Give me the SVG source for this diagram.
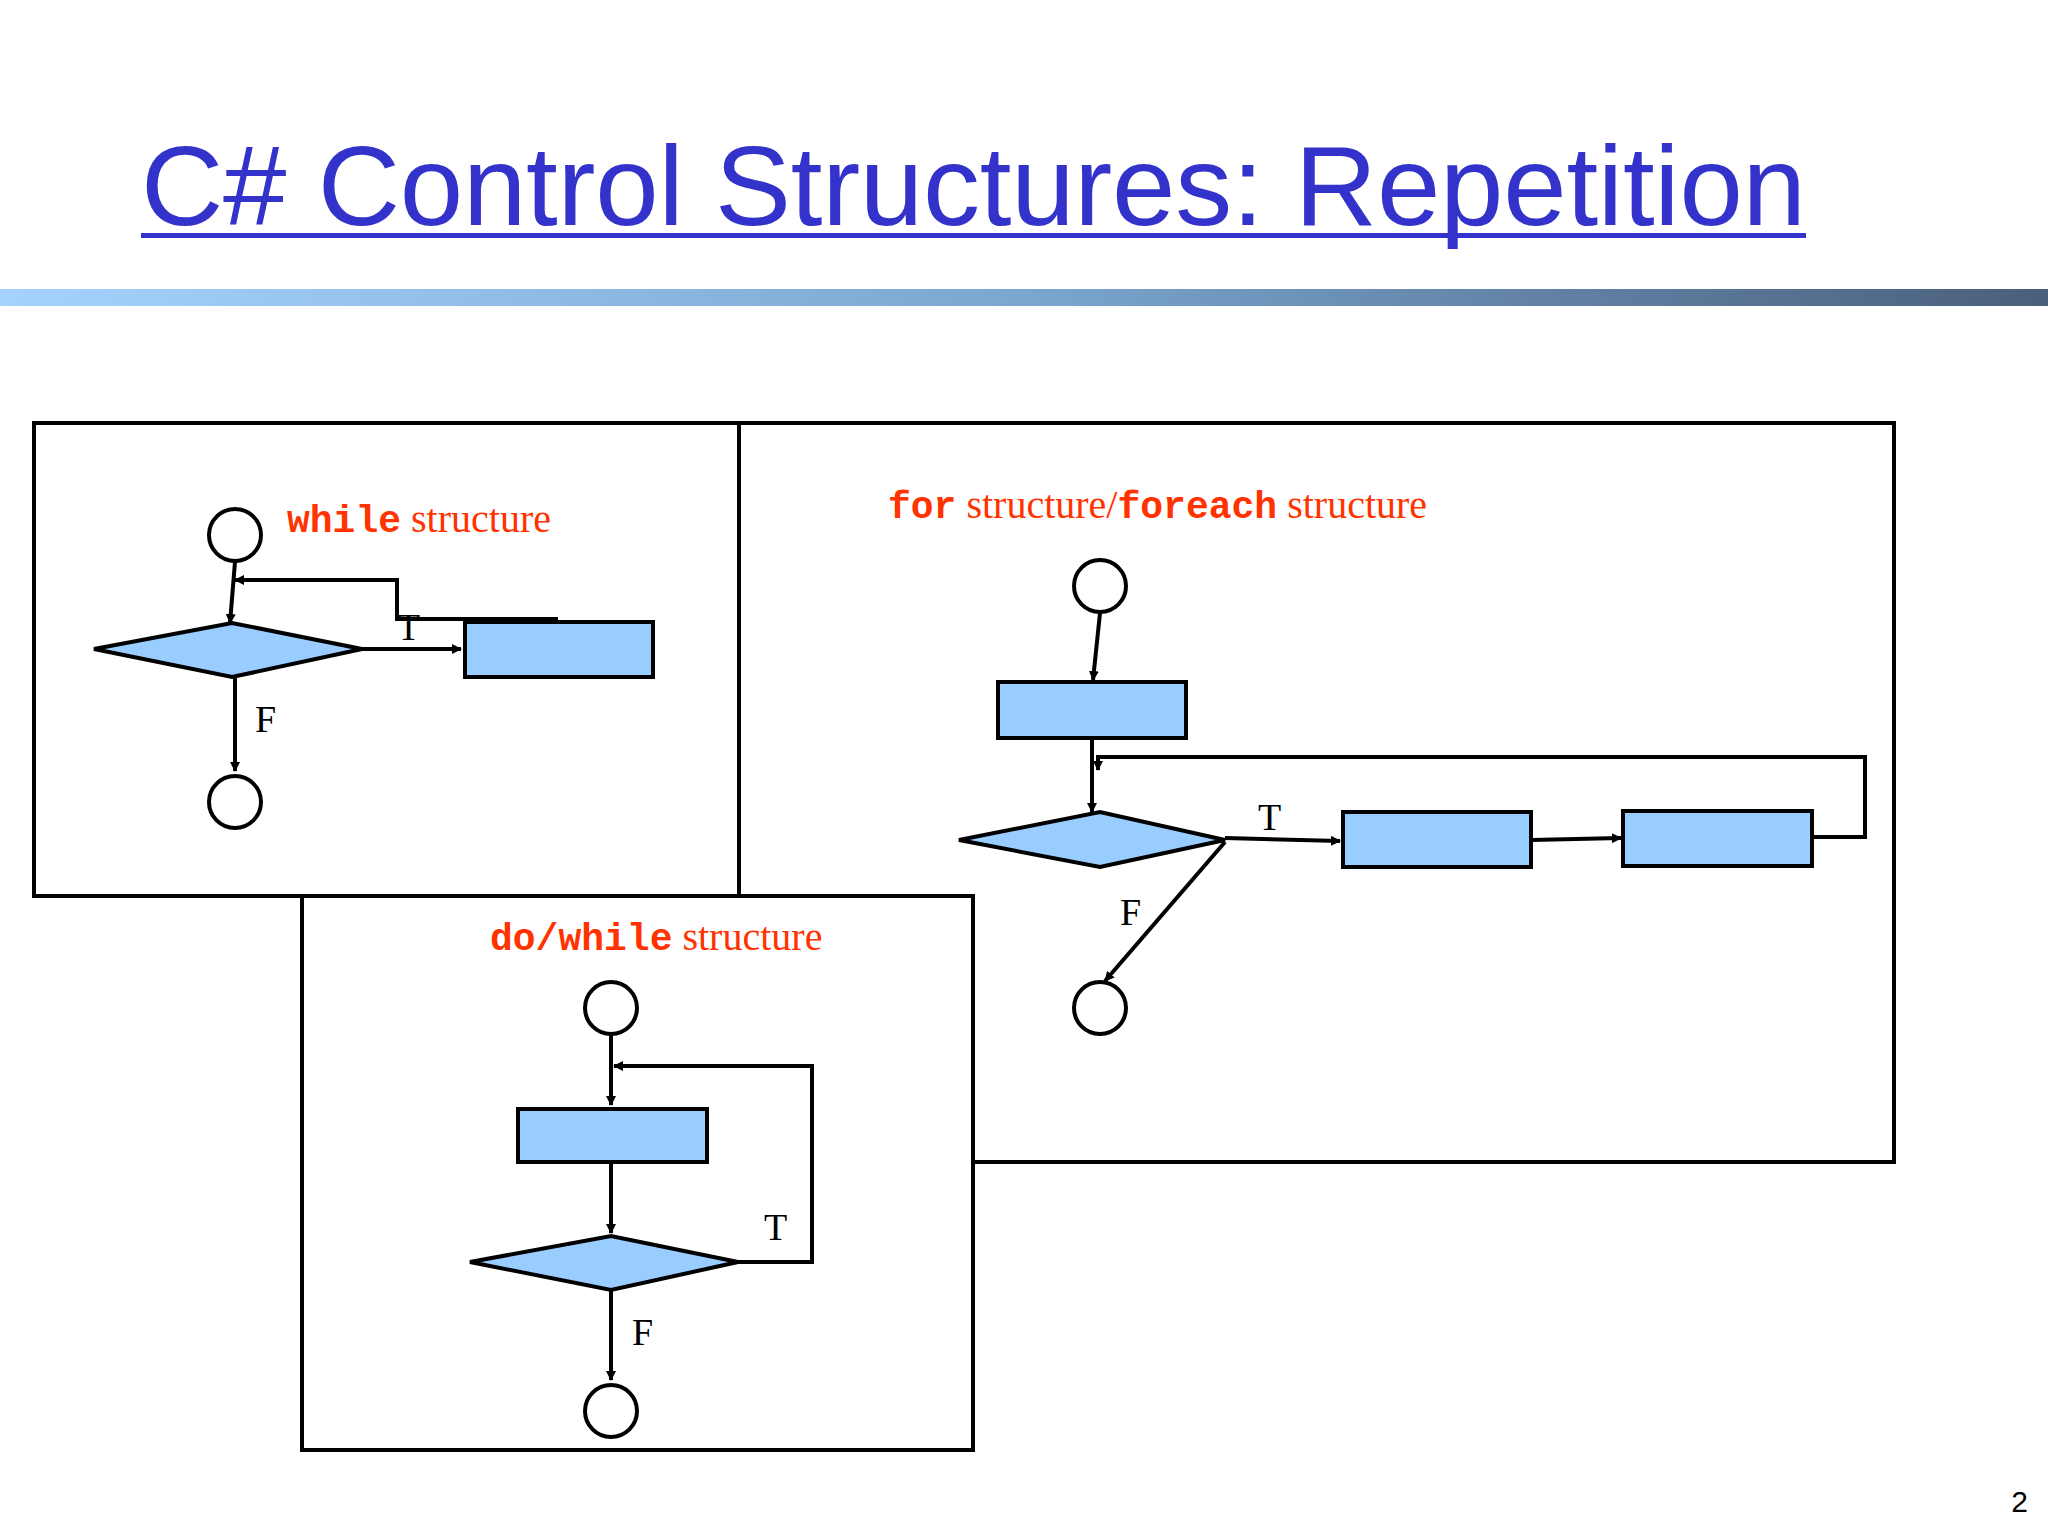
<svg xmlns="http://www.w3.org/2000/svg" width="2048" height="1536" viewBox="0 0 2048 1536">
<defs>
<linearGradient id="bar" x1="0" x2="1"><stop offset="0" stop-color="#a6d2ff"/><stop offset="0.5" stop-color="#7aa6cf"/><stop offset="1" stop-color="#4a5f7c"/></linearGradient>
<marker id="ah" markerWidth="10" markerHeight="10" refX="9" refY="5" orient="auto" markerUnits="userSpaceOnUse" viewBox="0 0 10 10"><path d="M0,0 L10,5 L0,10 z" fill="#000"/></marker>
<style>
.frame{fill:#fff;stroke:#000;stroke-width:4}
.n{fill:#99ccff;stroke:#000;stroke-width:4}
.c{fill:#fff;stroke:#000;stroke-width:4}
.e{fill:none;stroke:#000;stroke-width:4;marker-end:url(#ah)}
.l{fill:none;stroke:#000;stroke-width:4}
.lab{font-family:"Liberation Serif",serif;font-size:38px;fill:#000}
.kw{font-family:"Liberation Mono",monospace;font-weight:bold;fill:#ff3300}
.tt{font-family:"Liberation Serif",serif;font-size:40px;fill:#ff3300}
</style>
</defs>
<rect width="2048" height="1536" fill="#fff"/>
<text x="141" y="225" font-family="Liberation Sans, sans-serif" font-size="114" fill="#3333cc" textLength="1665">C# Control Structures: Repetition</text>
<rect x="141" y="233" width="1665" height="5" fill="#3333cc"/>
<rect x="0" y="289" width="2048" height="17" fill="url(#bar)"/>
<rect class="frame" x="739" y="423" width="1155" height="739"/>
<rect class="frame" x="34" y="423" width="705" height="473"/>
<rect class="frame" x="302" y="896" width="671" height="554"/>
<g id="connectors">
<path class="e" d="M235,562 L230,623"/>
<path class="e" d="M558,619 L397,619 L397,580 L235,580"/>
<path class="e" d="M362,649 L461,649"/>
<path class="e" d="M235,677 L235,771"/>
<path class="e" d="M1100,613 L1093,680"/>
<path class="e" d="M1092,738 L1092,812"/>
<path class="e" d="M1225,838 L1340,841"/>
<path class="e" d="M1531,840 L1621,838"/>
<path class="e" d="M1812,837 L1865,837 L1865,757 L1098,757 L1098,770"/>
<path class="e" d="M1225,842 L1105,981"/>
<path class="e" d="M611,1034 L611,1105"/>
<path class="e" d="M738,1262 L812,1262 L812,1066 L614,1066"/>
<path class="e" d="M611,1162 L611,1233"/>
<path class="e" d="M611,1290 L611,1380"/>
</g>
<g id="while">
<text x="287" y="532"><tspan class="kw" font-size="38">while</tspan><tspan class="tt"> structure</tspan></text>
<circle class="c" cx="235" cy="535" r="26"/>
<polygon class="n" points="94,649 232,623 362,649 232,677"/>
<rect class="n" x="465" y="622" width="188" height="55"/>
<circle class="c" cx="235" cy="802" r="26"/>
<text class="lab" x="397" y="640">T</text>
<text class="lab" x="255" y="732">F</text>
</g>
<g id="for">
<text x="888" y="518"><tspan class="kw" font-size="38">for</tspan><tspan class="tt"> structure/</tspan><tspan class="kw" font-size="38">foreach</tspan><tspan class="tt"> structure</tspan></text>
<circle class="c" cx="1100" cy="586" r="26"/>
<rect class="n" x="998" y="682" width="188" height="56"/>
<polygon class="n" points="959,840 1100,812 1225,840 1100,867"/>
<rect class="n" x="1343" y="812" width="188" height="55"/>
<rect class="n" x="1623" y="811" width="189" height="55"/>
<circle class="c" cx="1100" cy="1008" r="26"/>
<text class="lab" x="1258" y="830">T</text>
<text class="lab" x="1120" y="925">F</text>
</g>
<g id="dowhile">
<text x="490" y="950"><tspan class="kw" font-size="38">do/while</tspan><tspan class="tt"> structure</tspan></text>
<circle class="c" cx="611" cy="1008" r="26"/>
<rect class="n" x="518" y="1109" width="189" height="53"/>
<polygon class="n" points="470,1262 611,1236 738,1262 611,1290"/>
<circle class="c" cx="611" cy="1411" r="26"/>
<text class="lab" x="764" y="1240">T</text>
<text class="lab" x="632" y="1345">F</text>
</g>
<text x="2028" y="1512" font-family="Liberation Sans, sans-serif" font-size="30" text-anchor="end">2</text>
</svg>
